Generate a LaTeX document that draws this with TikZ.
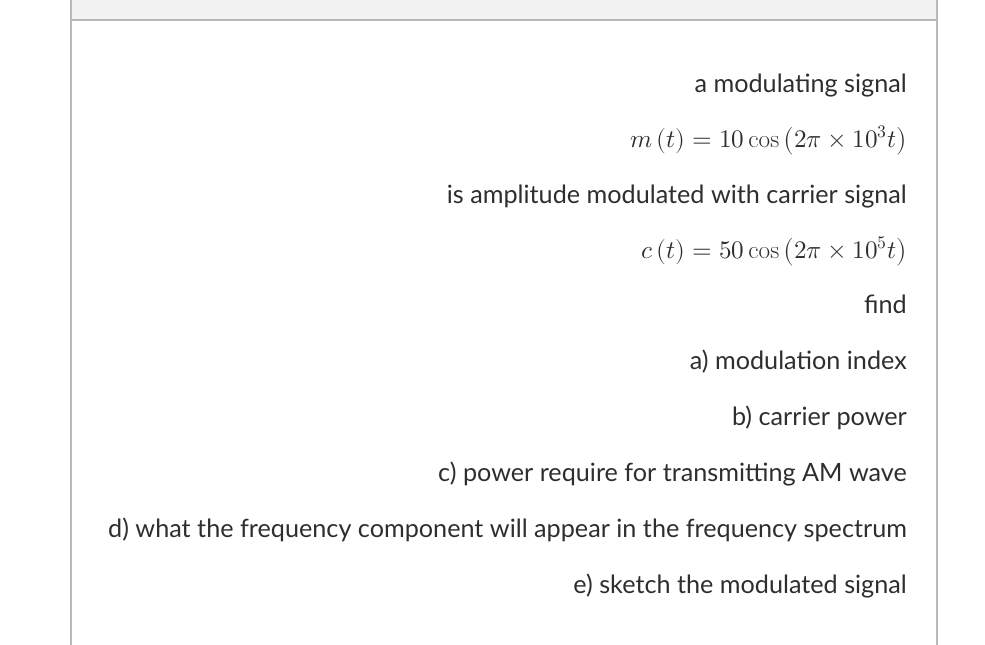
\documentclass[tikz,border=0pt]{standalone}
\usepackage{fontspec}
\setmainfont{Lato}
\usepackage{unicode-math}
\setmathfont{Latin Modern Math}
\setmathrm{Latin Modern Roman}
\begin{document}
\begin{tikzpicture}[x=1pt,y=-1pt,
  txt/.style={anchor=base east,inner sep=0pt,font=\fontsize{25.2}{30}\selectfont,text=black!82}]
\useasboundingbox (0,0) rectangle (985,645);
\fill[gray!10] (71,0) rectangle (937,20);
\draw[gray!55,line width=1.2pt] (71,0) -- (71,645) (937,0) -- (937,645) (71,20) -- (937,20);
\node[txt] (l1) at (907,92) {a modulating signal};
\node[txt] (l2) at (907,147) {$m\left(t\right)=10\cos\left(2\pi\times10^{3}t\right)$};
\node[txt] (l3) at (907,203) {is amplitude modulated with carrier signal};
\node[txt] (l4) at (907,258) {$c\left(t\right)=50\cos\left(2\pi\times10^{5}t\right)$};
\node[txt] (l5) at (907,313) {find};
\node[txt] (l6) at (907,369) {a) modulation index};
\node[txt] (l7) at (907,425) {b) carrier power};
\node[txt] (l8) at (907,481) {c) power require for transmitting AM wave};
\node[txt] (l9) at (907,537) {d) what the frequency component will appear in the frequency spectrum};
\node[txt] (l10) at (907,593) {e) sketch the modulated signal};
\end{tikzpicture}
\end{document}
